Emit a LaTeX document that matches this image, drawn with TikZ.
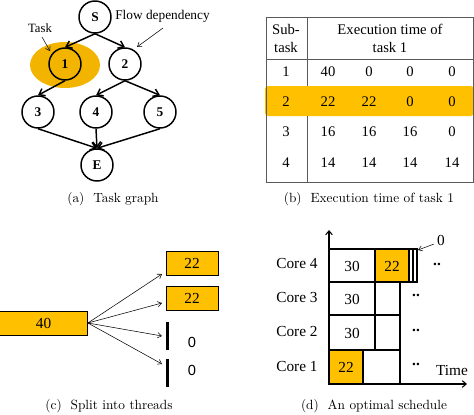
\documentclass[tikz,border=0pt]{standalone}
\usepackage{fontspec}
\newfontfamily\tnr{Liberation Serif}
\newfontfamily\asans{Liberation Sans}
\usetikzlibrary{arrows.meta}
\definecolor{gold}{RGB}{255,192,0}
\definecolor{goldell}{RGB}{243,180,0}
\definecolor{tabline}{RGB}{90,90,90}
\begin{document}
\begin{tikzpicture}[x=0.75pt,y=-0.75pt,
  task/.style={circle, draw, line width=1.1pt, minimum size=24pt, inner sep=0pt,
    font=\tnr\bfseries\fontsize{10}{12}\selectfont},
  dep/.style={-{Straight Barb[length=4pt,width=6pt]}, line width=1.1pt},
  thinarrow/.style={-{Straight Barb[length=3pt,width=4pt]}, line width=0.4pt},
  captxt/.style={font=\fontsize{10}{12}\selectfont},
  tt/.style={font=\tnr\fontsize{11}{13}\selectfont, inner sep=0pt},
  st/.style={font=\tnr\fontsize{11.5}{13.5}\selectfont, inner sep=0pt},
  gbox/.style={draw, fill=gold, line width=0.6pt, minimum width=39pt, minimum height=18pt, inner sep=0pt,
    font=\tnr\fontsize{11.5}{13.5}\selectfont},
  bar/.style={fill=black, minimum width=2.4pt, minimum height=21pt, inner sep=0pt},
  cell/.style={draw, line width=0.8pt},
  axis/.style={-{Straight Barb[length=3pt,width=5pt]}, line width=0.8pt}]
\useasboundingbox (0,0) rectangle (474,414);

% ---------------- (a) Task graph
\fill[goldell] (65,65) ellipse [x radius=26.25pt, y radius=17.25pt];
\node[task] (S) at (95,17) {S};
\node[task] (n1) at (65,64) {1};
\node[task] (n2) at (125,64) {2};
\node[task] (n3) at (38,112) {3};
\node[task] (n4) at (96,112) {4};
\node[task] (n5) at (160,112) {5};
\node[task] (E) at (97,165) {E};
\draw[dep] (S.south) -- (n1.north);
\draw[dep] (S.south) -- (n2.north);
\draw[dep] (n1.south) -- (n3.north);
\draw[dep] (n2.south) -- (n4.north);
\draw[dep] (n2.south) -- (n5.north);
\draw[dep] (n3.south) -- (E.north);
\draw[dep] (n4.south) -- (E.north);
\draw[dep] (n5.south) -- (E.north);
\node[font=\tnr\fontsize{9.5}{11}\selectfont, inner sep=0pt] (tasklbl) at (40,28) {Task};
\draw[thinarrow] (42,37) -- (50,51);
\node[font=\tnr\fontsize{10}{12}\selectfont, inner sep=0pt, anchor=west] (flowlbl) at (115,16) {Flow dependency};
\draw[thinarrow] (163,28) -- (137,47);
\node[captxt] (capa) at (113,199) {(a)\ \ Task graph};

% ---------------- (b) Table
\fill[gold, rounded corners=2.5pt] (265,86) rectangle (474,116);
\draw[tabline, line width=0.7pt] (266,17) rectangle (473,182);
\draw[tabline, line width=0.7pt] (307,17) -- (307,86) (307,116) -- (307,182);
\draw[tabline, line width=0.7pt] (266,59) -- (473,59);
\node[tt, align=center] (hsub) at (286,38.5) {Sub-\\task};
\node[tt, align=center] (hexe) at (390,38.5) {Execution time of\\task 1};
\foreach \y/\a/\b/\c/\d/\e in {72/1/40/0/0/0, 102/2/22/22/0/0, 132/3/16/16/16/0, 163/4/14/14/14/14}{
  \node[tt] at (286,\y) {\a};
  \node[tt] at (328,\y) {\b};
  \node[tt] at (369,\y) {\c};
  \node[tt] at (410,\y) {\d};
  \node[tt] at (452,\y) {\e};
}
\node[captxt] (capb) at (369,199) {(b)\ \ Execution time of task 1};

% ---------------- (c) Split into threads
\node[gbox, minimum width=66pt] (b40) at (43.5,323) {40};
\node[gbox] (b22a) at (192,263) {22};
\node[gbox] (b22b) at (192,298) {22};
\node[bar] (bar1) at (167.5,336) {};
\node[bar] (bar2) at (167.5,373) {};
\node[font=\asans\fontsize{11}{13}\selectfont, inner sep=0pt] (z1) at (192,342) {0};
\node[font=\asans\fontsize{11}{13}\selectfont, inner sep=0pt] (z2) at (192,370) {0};
\coordinate (e1) at (162,274);
\coordinate (e2) at (162,303);
\coordinate (e3) at (162,336);
\coordinate (e4) at (162,364);
\foreach \t in {e1,e2,e3,e4} \draw[thinarrow] (b40.east) -- (\t);
\node[captxt] (capc) at (109,406) {(c)\ \ Split into threads};

% ---------------- (d) Schedule
\fill[gold] (375,249) rectangle (409,282);
\fill[gold] (329,350) rectangle (363,384);
\draw[cell] (329,249) rectangle (375,282);
\draw[cell] (375,249) rectangle (409,282);
\draw[cell] (409,249) rectangle (417,282);
\draw[cell] (413,249) -- (413,282);
\draw[cell] (329,282) rectangle (375,315);
\draw[cell] (375,282) rectangle (400,315);
\draw[cell] (329,315) rectangle (375,350);
\draw[cell] (375,315) rectangle (400,350);
\draw[cell] (329,350) rectangle (363,384);
\draw[cell] (363,350) rectangle (400,384);
\coordinate (O) at (329,384);
\coordinate (ytop) at (329,230);
\coordinate (xend) at (467,384);
\draw[axis] (O) -- (ytop);
\draw[axis] (O) -- (xend);
\node[st] at (352,266) {30};
\node[st] at (392,266) {22};
\node[st] at (352,299) {30};
\node[st] at (352,333) {30};
\node[st] at (346,367) {22};
\node[st] (c4) at (297,263) {Core 4};
\node[st] (c3) at (297,297) {Core 3};
\node[st] (c2) at (297,331) {Core 2};
\node[st] (c1) at (297,366) {Core 1};
\node[st] (time) at (452,370) {Time};
\node[st] (zero) at (441,240) {0};
\coordinate (stripes) at (418,250);
\draw[thinarrow] (434,244) -- (stripes);
\node[st, font=\tnr\bfseries\fontsize{11.5}{13.5}\selectfont] at (437,264) {..};
\node[st, font=\tnr\bfseries\fontsize{11.5}{13.5}\selectfont] at (416,295) {..};
\node[st, font=\tnr\bfseries\fontsize{11.5}{13.5}\selectfont] at (416,330) {..};
\node[st, font=\tnr\bfseries\fontsize{11.5}{13.5}\selectfont] at (416,364) {..};
\node[captxt] (capd) at (374,406) {(d)\ \ An optimal schedule};
\end{tikzpicture}
\end{document}
